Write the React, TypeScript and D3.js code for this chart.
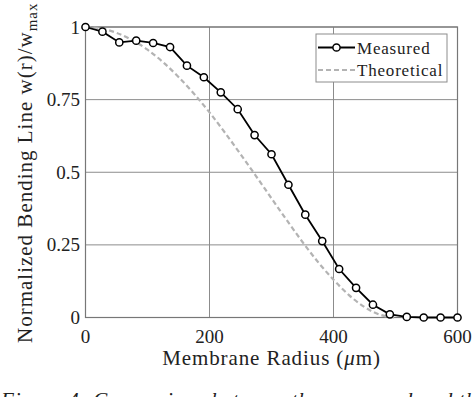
import * as d3 from "d3";

// measured points, 23 samples evenly spaced over 0..600 µm
const measuredR = [
  0, 27.3, 54.5, 81.8, 109.1, 136.4, 163.6, 190.9, 218.2, 245.5, 272.7, 300,
  327.3, 354.5, 381.8, 409.1, 436.4, 463.6, 490.9, 518.2, 545.5, 572.7, 600,
];
const measuredW = [
  1, 0.984, 0.947, 0.953, 0.945, 0.931, 0.867, 0.827, 0.775, 0.717, 0.628, 0.562,
  0.457, 0.354, 0.263, 0.167, 0.102, 0.044, 0.011, 0.002, 0, 0, 0,
];

// theoretical curve (gray dashed)
const theoryR = [
  0, 25, 50, 75, 100, 125, 150, 175, 200, 225, 250, 275, 300, 325, 350, 375,
  400, 425, 450, 475, 500,
];
const theoryW = [
  1, 0.995, 0.98, 0.955, 0.922, 0.879, 0.828, 0.77, 0.706, 0.636, 0.5625, 0.487,
  0.41, 0.334, 0.26, 0.191, 0.13, 0.077, 0.036, 0.0095, 0,
];

const xTicks = [0, 200, 400, 600];
const yTicks = [0, 0.25, 0.5, 0.75, 1];
const yTickLabels = ["0", "0.25", "0.5", "0.75", "1"];

const FONT =
  "'Liberation Serif', 'Times New Roman', Times, 'Nimbus Roman', FreeSerif, 'DejaVu Serif', 'Noto Serif', serif";
const GRID = "#8c8c8c";

export default function App() {
  const W = 474;
  const H = 397;
  const x = d3.scaleLinear().domain([0, 600]).range([85.5, 457.5]);
  const y = d3.scaleLinear().domain([0, 1]).range([317.5, 27]);

  const measured = measuredR.map((r, i) => [r, measuredW[i]] as [number, number]);
  const theory = theoryR.map((r, i) => [r, theoryW[i]] as [number, number]);

  const line = d3
    .line<[number, number]>()
    .x((d) => x(d[0]))
    .y((d) => y(d[1]));
  const smooth = d3
    .line<[number, number]>()
    .x((d) => x(d[0]))
    .y((d) => y(d[1]))
    .curve(d3.curveMonotoneX);

  const [x0, x1] = x.range();
  const [y0, y1] = y.range();

  return (
    <svg
      width={W}
      height={H}
      style={{ position: "absolute", left: 0, top: 0, background: "#fff", fontFamily: FONT }}
    >
      <rect width={W} height={H} fill="#fff" />

      {/* grid */}
      {xTicks.map((t) => (
        <line key={"gx" + t} x1={x(t)} x2={x(t)} y1={y1} y2={y0} stroke={GRID} strokeWidth={1} />
      ))}
      {yTicks.map((t) => (
        <line key={"gy" + t} x1={x0} x2={x1} y1={y(t)} y2={y(t)} stroke={GRID} strokeWidth={1} />
      ))}
      <rect x={x0} y={y1} width={x1 - x0} height={y0 - y1} fill="none" stroke="#777" strokeWidth={1.2} />

      {/* theoretical */}
      <path
        d={smooth(theory) ?? ""}
        fill="none"
        stroke="#b3b3b3"
        strokeWidth={2.2}
        strokeDasharray="5,3"
      />

      {/* measured */}
      <path d={line(measured) ?? ""} fill="none" stroke="#000" strokeWidth={1.8} />
      {measured.map((d, i) => (
        <circle key={i} cx={x(d[0])} cy={y(d[1])} r={3.6} fill="#fff" stroke="#000" strokeWidth={1.5} />
      ))}

      {/* tick labels */}
      {yTicks.map((t, i) => (
        <text key={"ty" + t} x={80} y={y(t) + 6.5} textAnchor="end" fontSize={19} fill="#222">
          {yTickLabels[i]}
        </text>
      ))}
      {xTicks.map((t) => (
        <text key={"tx" + t} x={x(t)} y={343} textAnchor="middle" fontSize={19} fill="#222">
          {t}
        </text>
      ))}

      {/* axis labels */}
      <text
        x={(x0 + x1) / 2}
        y={365}
        textAnchor="middle"
        fontSize={21}
        letterSpacing={0.9}
        fill="#222"
      >
        Membrane Radius (<tspan fontStyle="italic">μ</tspan>m)
      </text>
      <text
        transform="translate(32,343) rotate(-90)"
        fontSize={21}
        letterSpacing={1}
        fill="#222"
      >
        Normalized Bending Line w(r)/w
        <tspan fontSize={15} dy={5}>max</tspan>
      </text>

      {/* legend */}
      <g>
        <rect x={316} y={34} width={131} height={48} fill="#fff" stroke={GRID} strokeWidth={1} />
        <line x1={318} x2={355} y1={47.5} y2={47.5} stroke="#000" strokeWidth={1.8} />
        <circle cx={336.5} cy={47.5} r={3.6} fill="#fff" stroke="#000" strokeWidth={1.5} />
        <text x={357} y={53.5} fontSize={17} letterSpacing={0.8} fill="#222">
          Measured
        </text>
        <line
          x1={318}
          x2={355}
          y1={70}
          y2={70}
          stroke="#b3b3b3"
          strokeWidth={2.2}
          strokeDasharray="5,3"
        />
        <text x={357} y={76} fontSize={17} letterSpacing={0.8} fill="#222">
          Theoretical
        </text>
      </g>

      {/* figure caption, cut off by the page edge as in the source */}
      <text x={1} y={407} fontSize={21} fontStyle="italic" letterSpacing={0.8} fill="#222">
        Figure 4: Comparison between the measured and theoretical bending line.
      </text>
    </svg>
  );
}
